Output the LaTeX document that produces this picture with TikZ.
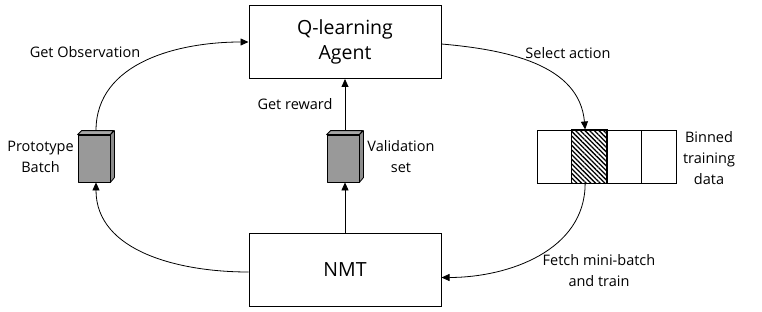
\documentclass[tikz,border=0pt]{standalone}
\usepackage{fontspec}
\setmainfont{Open Sans}
\usetikzlibrary{positioning, arrows.meta, patterns.meta}

\tikzset{
	caja/.style={draw, line width=1pt, minimum width=192pt, minimum height=73pt, align=center, font=\fontsize{19.5}{25}\selectfont},
	celda/.style={draw, line width=1pt, minimum width=34.75pt, minimum height=53pt, inner sep=0pt},
	bloque/.style={draw, line width=0.8pt, line join=round, fill=gray!80, minimum width=32pt, minimum height=47pt, inner sep=0pt},
	etiqueta/.style={align=center, font=\fontsize{14.5}{21}\selectfont},
	flecha/.style={-{Triangle[length=8pt,width=7pt]}, line width=0.8pt},
}

\begin{document}
\begin{tikzpicture}[x=1pt,y=1pt]
	\useasboundingbox (0,0) rectangle (762,311);

	% Agente y traductor
	\node[caja] (agente) at (345,269) {Q-learning\\Agent};
	\node[caja] (nmt) at (345,41.5) {NMT};

	% Datos de entrenamiento por intervalos
	\foreach \i in {1,2,3,4} {
		\node[celda] (bin\i) at (537+34.75*\i-17.375,154.5) {};
	}
	\fill[pattern={Lines[angle=-45, distance=3.3pt, line width=1.3pt]}] (bin2.south west) rectangle (bin2.north east);
	\draw[line width=1pt] (bin2.south west) rectangle (bin2.north east);

	% Bloques en 3D
	\node[bloque] (proto) at (94,152.5) {};
	\node[bloque] (valid) at (343,152.5) {};
	\foreach \b in {proto,valid} {
		\draw[line width=0.8pt, line join=round, fill=gray!70] (\b.north west) -- ++(4,4) -- ++(32,0) -- (\b.north east) -- cycle;
		\draw[line width=0.8pt, line join=round, fill=gray!90] (\b.north east) -- ++(4,4) -- ++(0,-47) -- (\b.south east) -- cycle;
	}
	\coordinate (prototop) at ([xshift=2pt,yshift=4pt]proto.north);
	\coordinate (validtop) at ([xshift=2pt,yshift=4pt]valid.north);

	% Etiquetas
	\node[etiqueta] (obs) at (85,259) {Get Observation};
	\node[etiqueta] (accion) at (568,258) {Select action};
	\node[etiqueta] (recompensa) at (295,207) {Get reward};
	\node[etiqueta] (protolab) at (40.5,154) {Prototype\\Batch};
	\node[etiqueta] (validlab) at (401,154) {Validation\\set};
	\node[etiqueta] (binlab) at (709,153) {Binned\\training\\data};
	\node[etiqueta] (fetch) at (599,40.5) {Fetch mini-batch\\and train};

	% Flechas
	\draw[flecha] (prototop) to[out=90,in=180] (agente.west);
	\draw[flecha] ([yshift=-2pt]agente.east) to[out=-5,in=95] ([xshift=-4pt]bin2.north);
	\draw[flecha] (validtop) -- (agente.south);
	\draw[flecha] (nmt.north) -- (nmt.north |- valid.south);
	\draw[flecha] ([yshift=-2.5pt]nmt.west) to[out=180,in=-90] ([xshift=2pt]proto.south);
	\draw[flecha] ([xshift=-4pt]bin2.south) to[out=-90,in=0] ([yshift=-8pt]nmt.east);

\end{tikzpicture}
\end{document}
